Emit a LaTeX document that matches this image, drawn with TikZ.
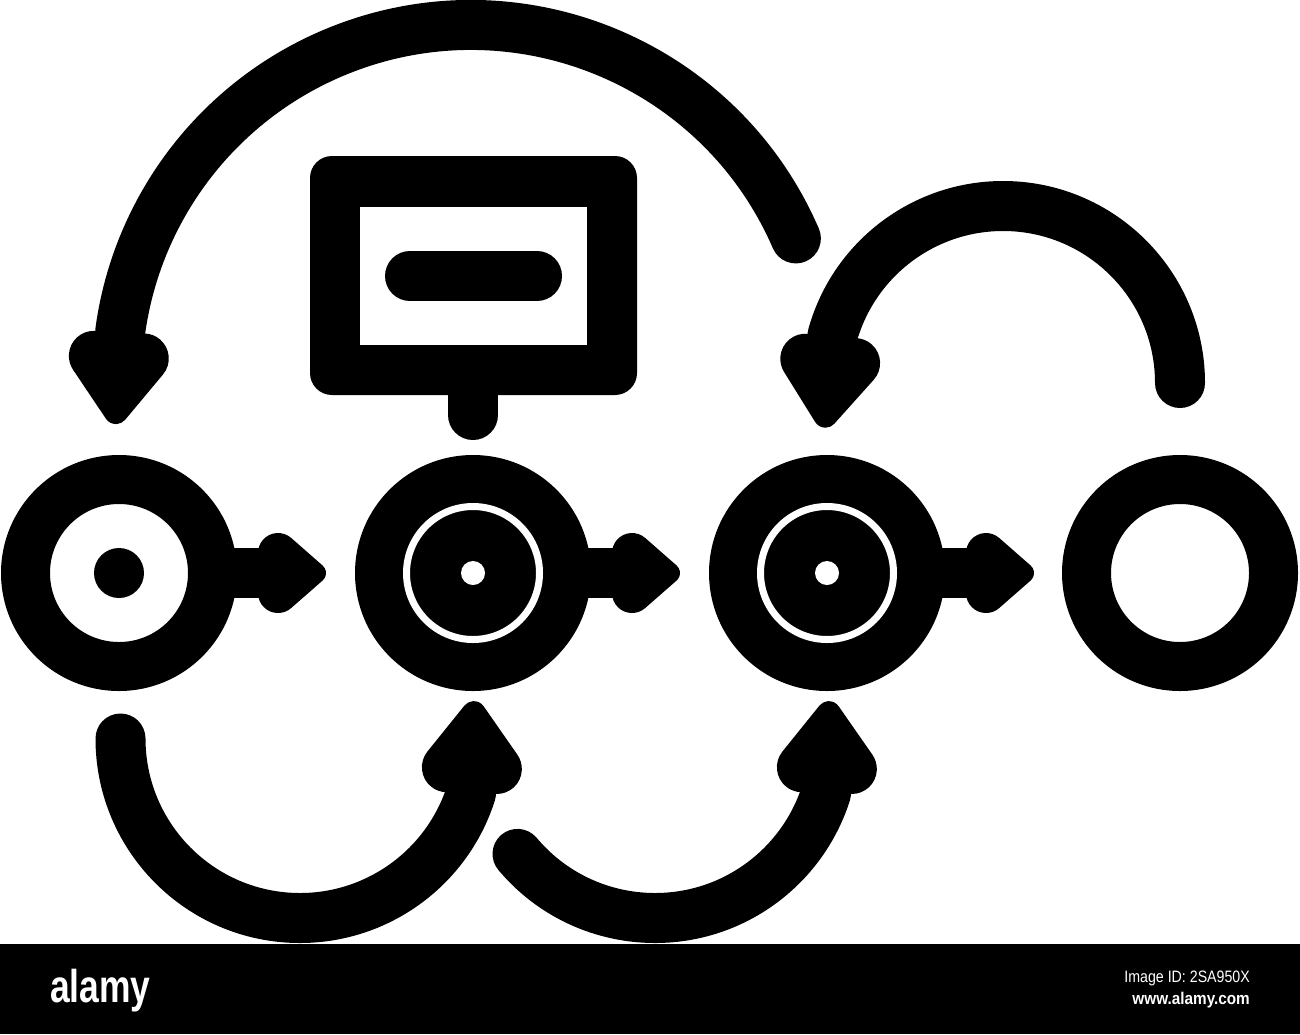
\documentclass[tikz,border=0pt]{standalone}
\usepackage{fontspec}
\setmainfont{Liberation Sans}
\usetikzlibrary{calc}
\begin{document}
\begin{tikzpicture}[x=1pt,y=-1pt,
  ring/.style={fill=black,even odd rule},
  arcline/.style={draw=black,line width=50pt,line cap=round},
  stemline/.style={draw=black,line width=50pt},
  smallhead/.pic={\fill[black] (0,0) -- (0,20) arc[start angle=180,end angle=48.77,radius=20]
      -- (64.59,7.52) arc[start angle=48.77,end angle=-48.77,radius=10]
      -- (33.19,-35.04) arc[start angle=-48.77,end angle=-180,radius=20] -- cycle;},
  bighead/.pic={\fill[black] (0,0) -- (0,25) arc[start angle=180,end angle=53.13,radius=25]
      -- (87.2,9.6) arc[start angle=53.13,end angle=-53.13,radius=12]
      -- (40,-45) arc[start angle=-53.13,end angle=-180,radius=25] -- cycle;},
  wtext/.style={text=white,inner sep=0pt}]
\useasboundingbox (0,0) rectangle (1300,1034);
\fill[white] (0,0) rectangle (1300,1034);
% circle centres
\coordinate (c1) at (119,573);
\coordinate (c2) at (473,573);
\coordinate (c3) at (827,573);
\coordinate (c4) at (1180,573);
% circles
\fill[ring] (c1) circle[radius=118] (c1) circle[radius=69];
\fill (c1) circle[radius=25];
\foreach \c in {c2,c3}{
  \fill (\c) circle[radius=118];
  \draw[white,line width=7pt] (\c) circle[radius=66.5];
  \fill[white] (\c) circle[radius=12];
}
\fill[ring] (c4) circle[radius=118] (c4) circle[radius=69];
% short connectors
\foreach \c in {c1,c2,c3}{
  \draw[stemline] ($(\c)+(105,0)$) -- ($(\c)+(150,0)$);
  \pic at ($(\c)+(139,0)$) {smallhead};
}
% box
\coordinate (boxstem) at (473,390);
\fill[rounded corners=22pt] (310,156) rectangle (637,395);
\fill[white] (360,207) rectangle (587,345);
\draw[arcline] (410,276) -- (537,276);
\draw[arcline] (boxstem) -- (473,415);
% big top arc
\coordinate (ca) at (471,379);
\draw[arcline] ($(ca)+(-23.4:354)$) arc[start angle=-23.4,end angle=-172.4,radius=354];
\pic[rotate=267] at ($(ca)+(-172.4:354)$) {bighead};
% small top arc
\coordinate (cb) at (1003,383);
\draw[arcline] ($(cb)+(0:177)$) arc[start angle=0,end angle=-164.6,radius=177];
\pic[rotate=265] at ($(cb)+(-164.6:177)$) {bighead};
% bottom arcs
\coordinate (cc) at (300,738.5);
\draw[arcline] ($(cc)+(-180:179.5)$) arc[start angle=-180,end angle=-342.3,radius=179.5];
\pic[rotate=88] at ($(cc)+(-342.3:179.5)$) {bighead};
\coordinate (cd) at (655,738.5);
\draw[arcline] ($(cd)+(-220:179.5)$) arc[start angle=-220,end angle=-342.3,radius=179.5];
\pic[rotate=88] at ($(cd)+(-342.3:179.5)$) {bighead};
% bottom bar
\fill[black] (0,944) rectangle (1300,1034);
\node[wtext,anchor=base west,font=\bfseries\fontsize{46}{50}\selectfont,xscale=0.77] (logo) at (50,1002) {alamy};
\node[wtext,anchor=base east,font=\fontsize{16.5}{18}\selectfont,xscale=0.86] (imgid) at (1250,982) {Image ID: 2SA950X};
\node[wtext,anchor=base east,font=\bfseries\fontsize{17}{19}\selectfont,xscale=0.9] (url) at (1250,1004) {www.alamy.com};
\end{tikzpicture}
\end{document}
